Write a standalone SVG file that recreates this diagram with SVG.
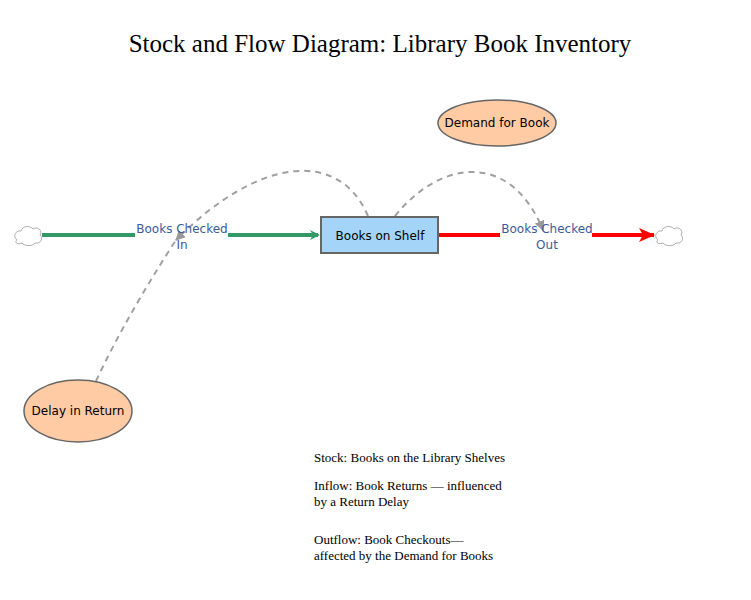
<svg xmlns="http://www.w3.org/2000/svg" width="751" height="600" viewBox="0 0 751 600">
<style>
.t{font-family:"Liberation Serif",serif;fill:#000}
.lbl{font-family:"DejaVu Sans","Liberation Sans",sans-serif;font-size:12px;text-anchor:middle}
.fl{font-family:"DejaVu Sans","Liberation Sans",sans-serif;font-size:12px;fill:#3b5a9a;text-anchor:middle}
.aux{fill:#ffcba4;stroke:#666;stroke-width:1.5}
.dash{fill:none;stroke:#a0a0a0;stroke-width:2;stroke-dasharray:6,5}
.cloud{fill:#fff;stroke:#999;stroke-width:0.8}
</style>
<defs>
<marker id="ag" markerWidth="10" markerHeight="10" refX="8" refY="5" orient="auto" markerUnits="userSpaceOnUse"><path d="M0,0 L10,5 L0,10 L3,5 Z" fill="#339966"/></marker>
<marker id="ar" markerWidth="16" markerHeight="14" refX="15" refY="7" orient="auto" markerUnits="userSpaceOnUse"><path d="M0,0 L16,7 L0,14 L4,7 Z" fill="#ff0000"/></marker>
<marker id="ad" markerWidth="10" markerHeight="10" refX="9" refY="5" orient="auto" markerUnits="userSpaceOnUse"><path d="M0,0 L10,5 L0,10 Z" fill="#999"/></marker>
</defs>
<rect width="751" height="600" fill="#fff"/>
<text class="t" x="380" y="52" font-size="25" text-anchor="middle">Stock and Flow Diagram: Library Book Inventory</text>
<g id="connectors">
<line x1="42" y1="235" x2="135" y2="235" stroke="#339966" stroke-width="4"/>
<line x1="228" y1="235" x2="318" y2="235" stroke="#339966" stroke-width="4" marker-end="url(#ag)"/>
<line x1="438" y1="235" x2="500" y2="235" stroke="#ff0000" stroke-width="4"/>
<line x1="592" y1="235" x2="654" y2="235" stroke="#ff0000" stroke-width="4" marker-end="url(#ar)"/>
<path class="dash" d="M368,216 C340,150 260,155 176,240" marker-end="url(#ad)"/>
<path class="dash" d="M96,381 C120,330 150,280 176,240"/>
<path class="dash" d="M395,216 C440,160 510,150 543,230" marker-end="url(#ad)"/>
</g>
<g id="source"><path class="cloud" d="M17,240 C12,236 16,230 21,231 C22,226 30,225 33,229 C37,226 43,230 40,235 C44,239 40,244 35,243 C32,247 24,246 22,243 C17,245 14,242 17,240 Z"/></g>
<g id="sink"><path class="cloud" d="M658,240 C653,236 657,230 662,231 C663,226 671,225 674,229 C678,226 684,230 681,235 C685,239 681,244 676,243 C673,247 665,246 663,243 C658,245 655,242 658,240 Z"/></g>
<g id="stock"><rect x="321" y="217" width="117" height="36" fill="#a4d4f7" stroke="#666" stroke-width="2"/><text class="lbl" x="380" y="240">Books on Shelf</text></g>
<g id="inflow"><text class="fl" x="182" y="233">Books Checked</text><text class="fl" x="182" y="249">In</text></g>
<g id="outflow"><text class="fl" x="547" y="233">Books Checked</text><text class="fl" x="547" y="249">Out</text></g>
<g id="demand"><ellipse class="aux" cx="497" cy="123" rx="59" ry="23"/><text class="lbl" x="497" y="127">Demand for Book</text></g>
<g id="delay"><ellipse class="aux" cx="78" cy="411" rx="54" ry="31"/><text class="lbl" x="78" y="415">Delay in Return</text></g>
<g id="notes" class="t" font-size="13">
<text x="314" y="462">Stock: Books on the Library Shelves</text>
<text x="314" y="490">Inflow: Book Returns — influenced</text>
<text x="314" y="506">by a Return Delay</text>
<text x="314" y="544">Outflow: Book Checkouts—</text>
<text x="314" y="560">affected by the Demand for Books</text>
</g>
</svg>
